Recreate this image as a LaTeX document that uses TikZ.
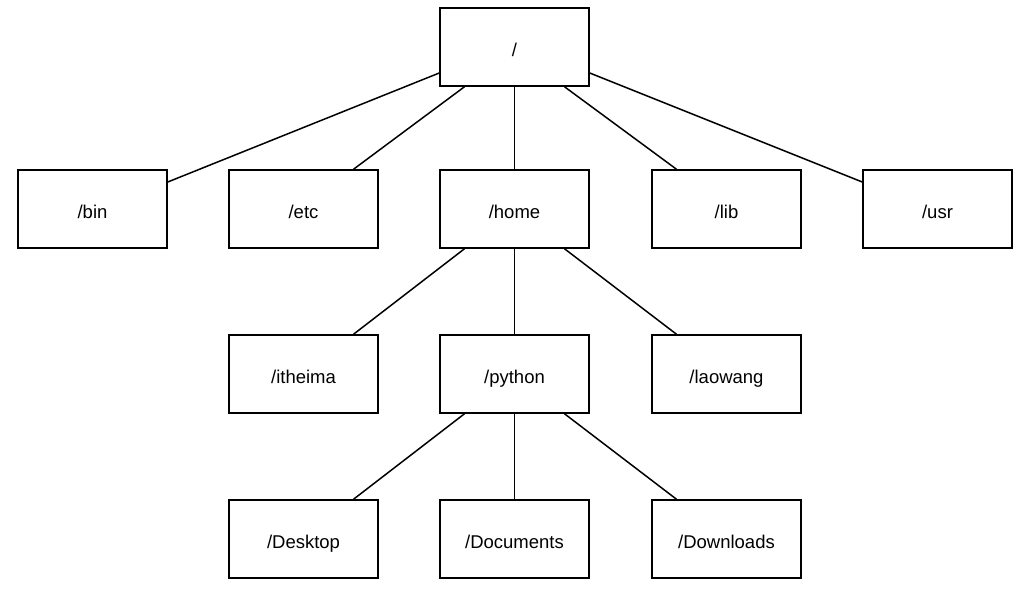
\documentclass[tikz,border=0pt]{standalone}
\usepackage{fontspec}
\setmainfont{Liberation Sans}
\begin{document}
\begin{tikzpicture}[x=1pt,y=-1pt,
  box/.style={draw,line width=1.5pt,minimum width=149pt,minimum height=78pt,inner sep=0pt,text height=20pt,text depth=1pt,font=\fontsize{18.5}{20}\selectfont},
  edge/.style={line width=1.5pt}]
\useasboundingbox (0,0) rectangle (1036,592);
\node[box] (root) at (514.5,47) {/};
\node[box] (bin) at (92.5,209) {/bin};
\node[box] (etc) at (303.5,209) {/etc};
\node[box] (home) at (514.5,209) {/home};
\node[box] (lib) at (726.5,209) {/lib};
\node[box] (usr) at (937.5,209) {/usr};
\node[box] (ith) at (303.5,374) {/itheima};
\node[box] (py) at (514.5,374) {/python};
\node[box] (lw) at (726.5,374) {/laowang};
\node[box] (desk) at (303.5,539) {/Desktop};
\node[box] (docs) at (514.5,539) {/Documents};
\node[box] (down) at (726.5,539) {/Downloads};
\draw[edge] ([yshift=-26pt]root.west) -- ([yshift=27pt]bin.east);
\draw[edge] ([xshift=-50pt]root.south) -- ([xshift=50pt]etc.north);
\draw[edge] (root) -- (home);
\draw[edge] ([xshift=50pt]root.south) -- ([xshift=-50pt]lib.north);
\draw[edge] ([yshift=-26pt]root.east) -- ([yshift=27pt]usr.west);
\draw[edge] ([xshift=-50pt]home.south) -- ([xshift=50pt]ith.north);
\draw[edge] (home) -- (py);
\draw[edge] ([xshift=50pt]home.south) -- ([xshift=-50pt]lw.north);
\draw[edge] ([xshift=-50pt]py.south) -- ([xshift=50pt]desk.north);
\draw[edge] (py) -- (docs);
\draw[edge] ([xshift=50pt]py.south) -- ([xshift=-50pt]down.north);
\end{tikzpicture}
\end{document}
